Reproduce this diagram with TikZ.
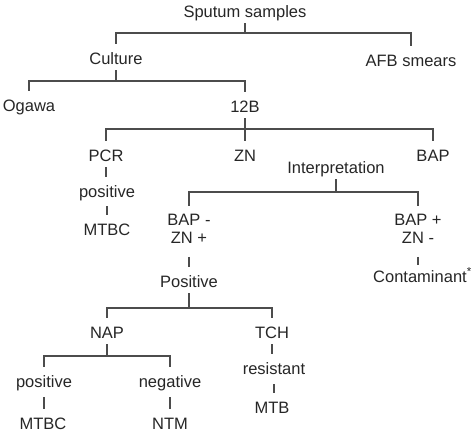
\documentclass[tikz,border=0pt]{standalone}
\usepackage{fontspec}
\setmainfont{Liberation Sans}
\newcommand{\fsize}{\fontsize{16.5}{18}\selectfont}
\newcommand{\fork}[3]{
	\foreach \kid in {#3}
	\draw [link](#1.south) -- (#1.south |- #2) -| (\kid.north);
	}
\newcommand{\stem}[3][]{
	\draw [link,#1](#2.south) -- (#2.south |- #3.north);
	}

\begin{document}
\begin{tikzpicture}[
      x=1pt, y=-1pt, %pixel units, y downwards
      txt/.style={font=\fsize, text=black!85, text height=11.8pt, text depth=0pt, inner sep=0pt, anchor=base},
      pair/.style={font=\fsize, text=black!85, align=center, inner sep=0pt, anchor=north},
      link/.style={draw=black!70, line width=1.2pt, shorten <=6pt, shorten >=8pt}
    ]
    \useasboundingbox (0,0) rectangle (474,434);
    % levels of the branching bars
    \coordinate (bar1) at (0,33);
    \coordinate (bar2) at (0,81);
    \coordinate (bar3) at (0,129);
    \coordinate (bar4) at (0,192);
    \coordinate (bar5) at (0,308);
    \coordinate (bar6) at (0,356);
    % the samples and the culture
    \node[txt] (sputum) at (245,17) {Sputum samples};
    \node[txt] (culture) at (116,64) {Culture};
    \node[txt] (afb) at (411,66) {AFB smears};
    \node[txt] (ogawa) at (29,111) {Ogawa};
    \node[txt] (twelveb) at (245,112) {12B};
    \node[txt] (pcr) at (106,161) {PCR};
    \node[txt] (zn) at (245,161) {ZN};
    \node[txt] (bap) at (433,161) {BAP};
    \node[txt] (pcrpos) at (107,197) {positive};
    \node[txt] (pcrmtbc) at (107,235) {MTBC};
    % interpretation of BAP and ZN
    \node[txt] (interp) at (336,173) {Interpretation};
    \node[pair] (bapneg) at (189,214.2) {BAP -\\ZN +};
    \node[pair] (bappos) at (418,214.2) {BAP +\\ZN -};
    \node[txt] (positive) at (189,287) {Positive};
    \node[txt] (contam) at (420,282) {Contaminant\rlap{\textsuperscript{*}}};
    % identification
    \node[txt] (nap) at (107,338) {NAP};
    \node[txt] (tch) at (272,338) {TCH};
    \node[txt] (nappos) at (44,387) {positive};
    \node[txt] (napneg) at (170,387) {negative};
    \node[txt] (mtbc) at (43,429) {MTBC};
    \node[txt] (ntm) at (170,429) {NTM};
    \node[txt] (resist) at (274,374) {resistant};
    \node[txt] (mtb) at (272,413) {MTB};
    % connectors
    \fork{sputum}{bar1}{culture,afb};
    \fork{culture}{bar2}{ogawa,twelveb};
    \fork{twelveb}{bar3}{pcr,zn,bap};
    \stem{pcr}{pcrpos};
    \stem[shorten <=9pt]{pcrpos}{pcrmtbc};
    \fork{interp}{bar4}{bapneg,bappos};
    \stem[shorten <=13pt]{bapneg}{positive};
    \stem[shorten <=13pt, shorten >=5pt]{bappos}{contam};
    \fork{positive}{bar5}{nap,tch};
    \fork{nap}{bar6}{nappos,napneg};
    \stem[shorten <=10pt]{nappos}{mtbc};
    \stem[shorten <=10pt]{napneg}{ntm};
    \stem{tch}{resist};
    \stem[shorten <=10pt]{resist}{mtb};
\end{tikzpicture}
\end{document}
